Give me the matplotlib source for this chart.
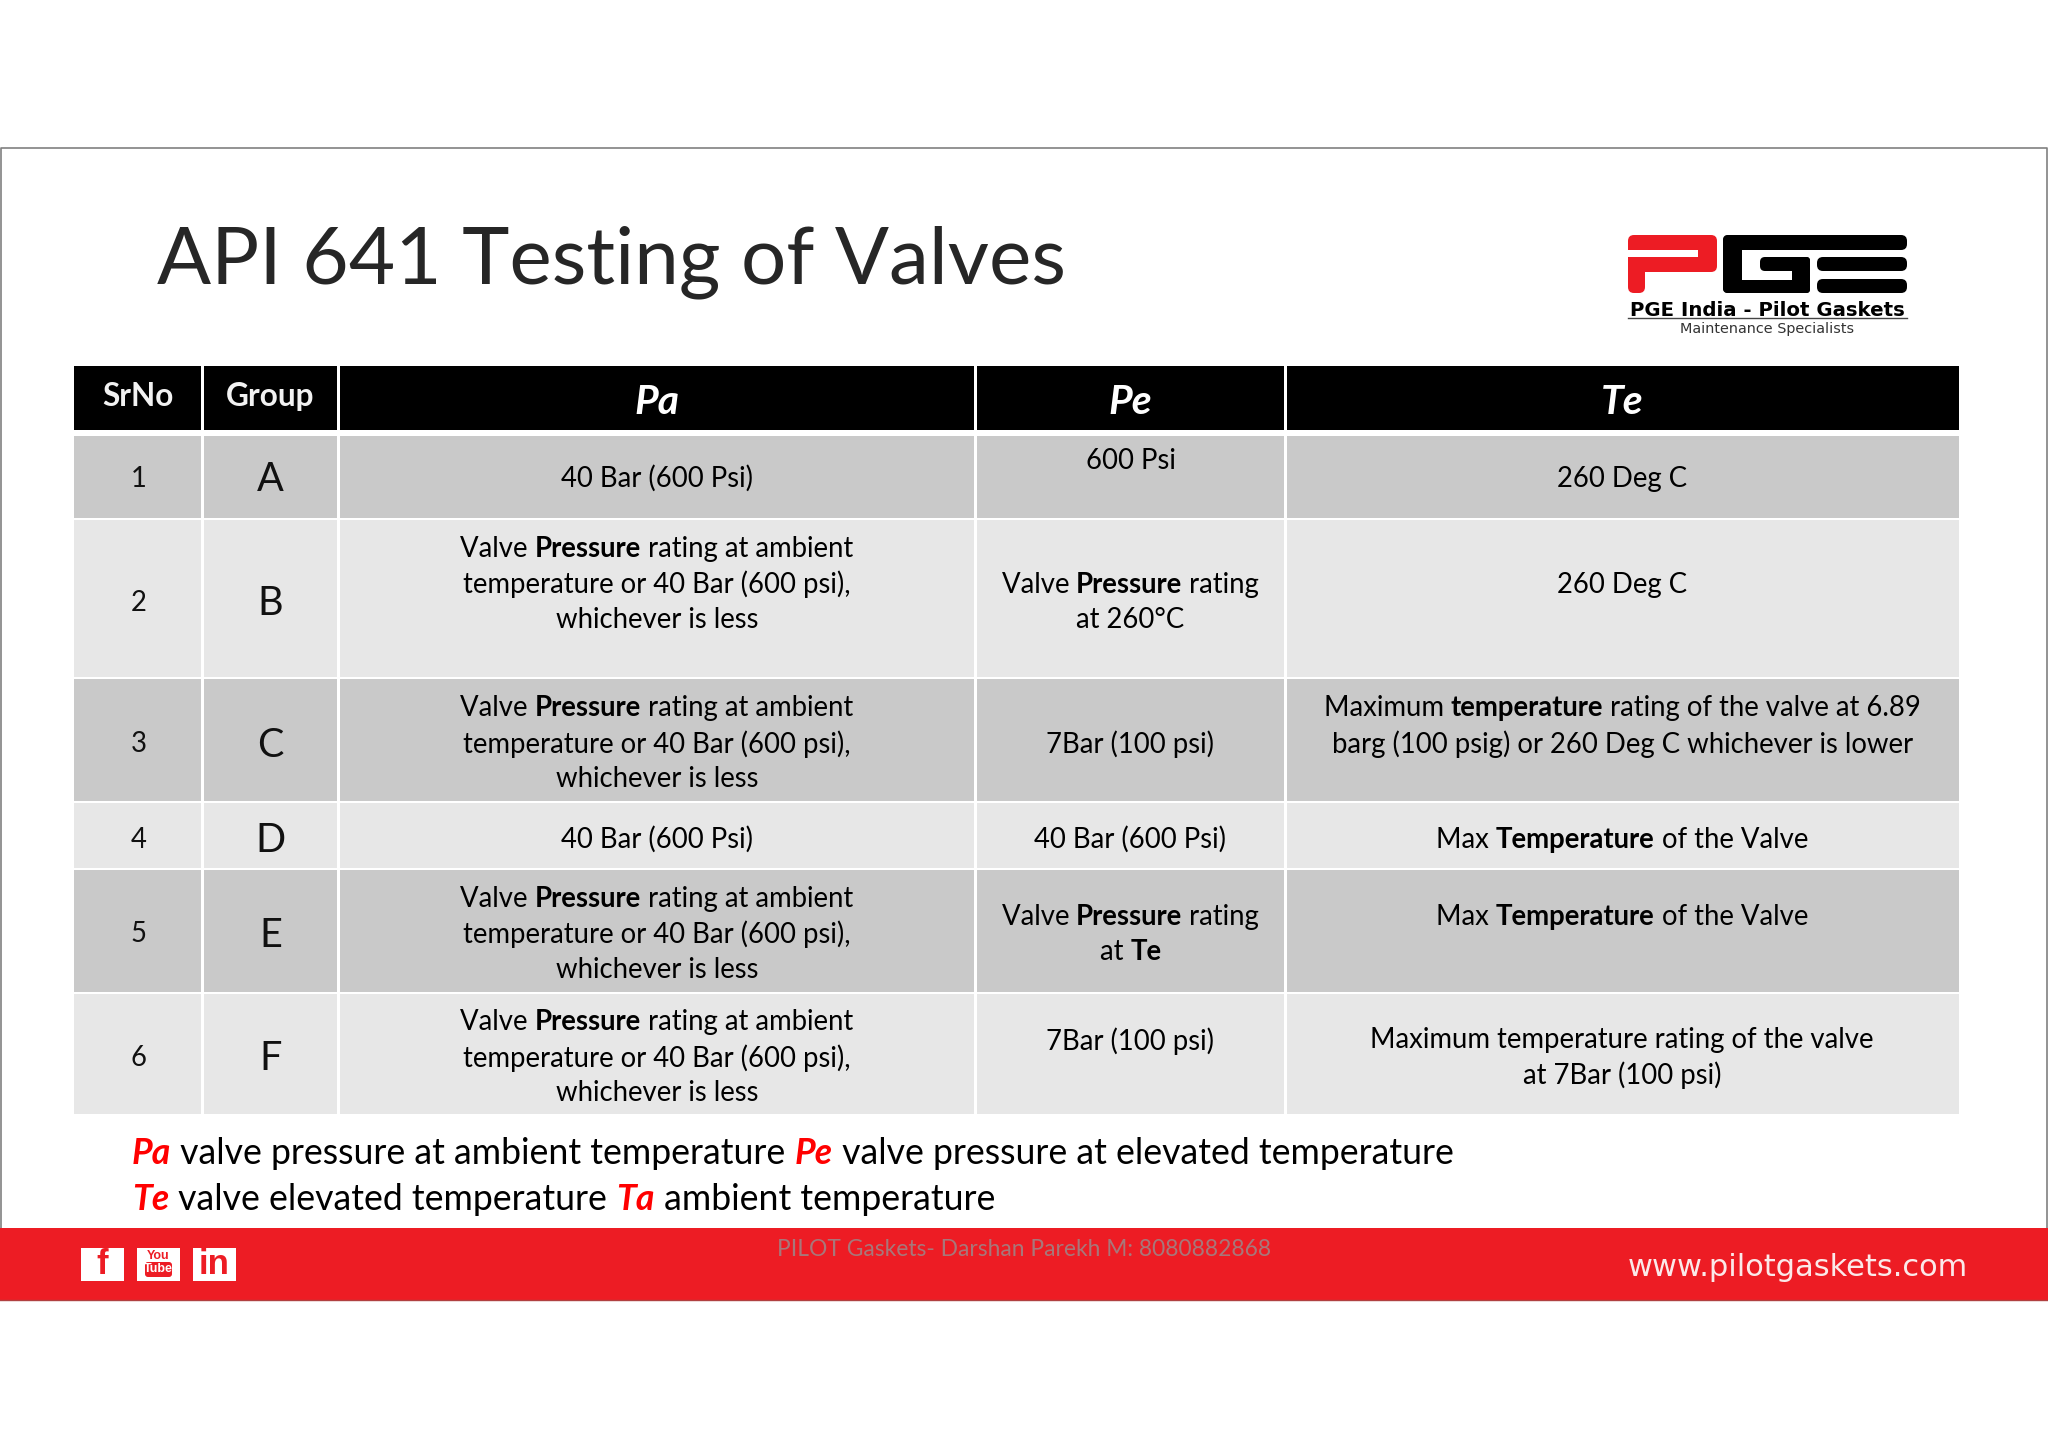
import matplotlib
matplotlib.use("Agg")
import matplotlib.pyplot as plt
from matplotlib.patches import Rectangle, FancyBboxPatch

# ---------- content ----------
TITLE = "API 641 Testing of Valves"
HEADERS = ["SrNo", "Group", "Pa", "Pe", "Te"]
SRNO = ["1", "2", "3", "4", "5", "6"]
GROUPS = ["A", "B", "C", "D", "E", "F"]
VP = ["Valve **Pressure** rating at ambient", "temperature or 40 Bar (600 psi),", "whichever is less"]
PA = [["40 Bar (600 Psi)"], VP, VP, ["40 Bar (600 Psi)"], VP, VP]
PE = [["600 Psi"],
      ["Valve **Pressure** rating", "at 260°C"],
      ["7Bar (100 psi)"],
      ["40 Bar (600 Psi)"],
      ["Valve **Pressure** rating", "at **Te**"],
      ["7Bar (100 psi)"]]
TE = [["260 Deg C"],
      ["260 Deg C"],
      ["Maximum **temperature** rating of the valve at 6.89", "barg (100 psig) or 260 Deg C whichever is lower"],
      ["Max **Temperature** of the Valve"],
      ["Max **Temperature** of the Valve"],
      ["Maximum temperature rating of the valve", "at 7Bar (100 psi)"]]
NOTE1 = [("Pa", 1), (" valve pressure at ambient temperature ", 0), ("Pe", 1), (" valve pressure at elevated temperature", 0)]
NOTE2 = [("Te", 1), (" valve elevated temperature ", 0), ("Ta", 1), (" ambient temperature", 0)]
FOOT_MID = "PILOT Gaskets- Darshan Parekh M: 8080882868"
FOOT_URL = "www.pilotgaskets.com"

# ---------- layout (pixels of the 2048x1448 slide) ----------
S = 2048 / 1568
COLS = [x * S for x in (57, 155, 259, 747, 984, 1500)]
ROWS = [y * S for y in (333, 397, 519, 614, 665, 760, 854)]
HEAD = (280 * S, 329 * S)
PA_Y = [364.5, 445.5, 567.5, 640.5, 713.5, 808]
PE_Y = [351, 459.5, 568, 641, 713.5, 795]
TE_Y = [365, 446, 554, 641, 700, 808]
ID_Y = [364.5, 459.5, 568, 641, 713.5, 808]
LINE = 27.2 * S
BODY = 19.8
FONT = "Lato"
DARK, LIGHT, RED, TRED = "#C9C9C9", "#E7E7E7", "#ED1C24", "#FF0000"

fig = plt.figure(figsize=(20.48, 14.48), dpi=100)
ax = fig.add_axes([0, 0, 1, 1])
ax.set_xlim(0, 2048)
ax.set_ylim(1448, 0)
ax.axis("off")
r = fig.canvas.get_renderer()


def rect(x0, y0, x1, y1, c, z=1, **k):
    ax.add_patch(Rectangle((x0, y0), x1 - x0, y1 - y0, fc=c, ec="none", zorder=z, **k))


def rrect(x0, y0, x1, y1, c, rad=6, z=3):
    ax.add_patch(FancyBboxPatch((x0 + rad, y0 + rad), x1 - x0 - 2 * rad, y1 - y0 - 2 * rad,
                                boxstyle=f"round,pad={rad},rounding_size={rad}", fc=c, ec="none", zorder=z))


def width(s, **k):
    a = ax.text(0, 0, "x" + s + "x", **k)
    b = ax.text(0, 0, "xx", **k)
    w = a.get_window_extent(r).width - b.get_window_extent(r).width
    a.remove(); b.remove()
    return w


def runs(parts, x, y, size, center=True):
    ws = [width(t, fontsize=size, family=FONT, **st) for t, st in parts]
    if center:
        x -= sum(ws) / 2
    for (t, st), w in zip(parts, ws):
        ax.text(x, y, t.replace(" ", "\u00a0"), fontsize=size, family=FONT, va="center_baseline", ha="left", zorder=5, **st)
        x += w


def markup(line):
    out = []
    for i, seg in enumerate(line.split("**")):
        if seg:
            out.append((seg, {"weight": "bold", "color": "black"} if i % 2 else {"color": "black"}))
    return out


def cell(lines, x, y):
    y0 = y - (len(lines) - 1) * LINE / 2
    for i, l in enumerate(lines):
        runs(markup(l), x, y0 + i * LINE, BODY)


# slide frame
ax.plot([1, 1, 2047, 2047], [1228, 148, 148, 1228], color="#808080", lw=1.2, zorder=2)

ax.text(157, 254, TITLE, fontsize=57.6, family=FONT, color="#262626", va="center_baseline", ha="left")

# header
for i, h in enumerate(HEADERS):
    x0, x1 = COLS[i], COLS[i + 1]
    rect(x0 + (1.5 if i else 0), HEAD[0], x1 - (1.5 if i < 4 else 0), HEAD[1], "black")
    xc = (x0 + x1) / 2
    if i < 2:
        ax.text(xc, 394, h, fontsize=22.8, weight="bold", family=FONT, color="#F2F2F2", ha="center", va="center_baseline", zorder=5)
    else:
        ax.text(xc, 399, h, fontsize=29.4, weight="bold", style="italic", family=FONT, color="white", ha="center", va="center_baseline", zorder=5)

# rows
for j in range(6):
    y0, y1 = ROWS[j], ROWS[j + 1]
    for i in range(5):
        rect(COLS[i] + (1.5 if i else 0), y0 + 1, COLS[i + 1] - (1.5 if i < 4 else 0), y1 - 1,
             DARK if j % 2 == 0 else LIGHT)
    yc = ID_Y[j] * S
    ax.text((COLS[0] + COLS[1]) / 2, yc, SRNO[j], fontsize=BODY, family=FONT, ha="center", va="center_baseline", zorder=5, color="#111111")
    ax.text((COLS[1] + COLS[2]) / 2, yc, GROUPS[j], fontsize=28.5, family=FONT, ha="center", va="center_baseline", zorder=5, color="#111111")
    cell(PA[j], (COLS[2] + COLS[3]) / 2, PA_Y[j] * S)
    cell(PE[j], (COLS[3] + COLS[4]) / 2, PE_Y[j] * S)
    cell(TE[j], (COLS[4] + COLS[5]) / 2, TE_Y[j] * S)

# notes
for note, y in ((NOTE1, 1151), (NOTE2, 1197)):
    parts = [(t, {"weight": "bold", "style": "italic", "color": TRED} if f else {"color": "black"}) for t, f in note]
    runs(parts, 132, y, 25.7, center=False)

# footer
rect(0, 1228, 2048, 1300, RED, 2)
ax.plot([0, 2048], [1299.5, 1299.5], color="#B04040", lw=1, zorder=3)
ax.text(1024, 1247, FOOT_MID, fontsize=16.4, family=FONT, color="#A8777A", ha="center", va="center_baseline", zorder=5)
ax.text(1968, 1265, FOOT_URL, fontsize=22, family="DejaVu Sans", color="#FBE9E9", ha="right", va="center_baseline", zorder=5)
for x0, x1 in ((81, 124), (137, 180), (193, 236)):
    rect(x0, 1248, x1, 1281, "white", 3)
ax.text(102, 1265, "f", fontsize=25, weight="bold", family="Liberation Sans", color=RED, ha="center", va="center", zorder=5)
ax.text(158.5, 1256, "You", fontsize=9, weight="bold", family="Liberation Sans", color=RED, ha="center", va="center", zorder=5)
rrect(145, 1262, 172, 1277, RED, 3, z=4)
ax.text(158.5, 1269.5, "Tube", fontsize=9, weight="bold", family="Liberation Sans", color="white", ha="center", va="center", zorder=5)
ax.text(214.5, 1265, "in", fontsize=25, weight="bold", family="Liberation Sans", color=RED, ha="center", va="center", zorder=5)

# logo
rrect(1628, 235, 1717, 272, "#ED1C24", 6)
rect(1640, 250, 1698, 257, "white", 4)
rrect(1628, 250, 1645, 293, "#ED1C24", 6, z=3)
rect(1628, 250, 1645, 257, "white", 4)
rrect(1723, 235, 1907, 250, "black", 6)
rrect(1723, 235, 1742, 293, "black", 5)
rrect(1723, 280, 1810, 293, "black", 5)
rect(1735, 235, 1760, 250, "black", 3)
rrect(1792, 257, 1810, 293, "black", 3)
rrect(1760, 257, 1810, 271, "black", 5)
rrect(1817, 257, 1907, 271, "black", 6)
rrect(1817, 279, 1907, 293, "black", 6)
ax.text(1767.5, 308, "PGE India - Pilot Gaskets", fontsize=14.2, weight="bold", family="DejaVu Sans",
        color="black", ha="center", va="center_baseline", zorder=5)
ax.plot([1628, 1907], [318, 318], color="#444444", lw=1, zorder=5)
ax.text(1767, 328, "Maintenance Specialists", fontsize=10.4, family="DejaVu Sans",
        color="#333333", ha="center", va="center_baseline", zorder=5)

fig.savefig("out.png", dpi=100)
